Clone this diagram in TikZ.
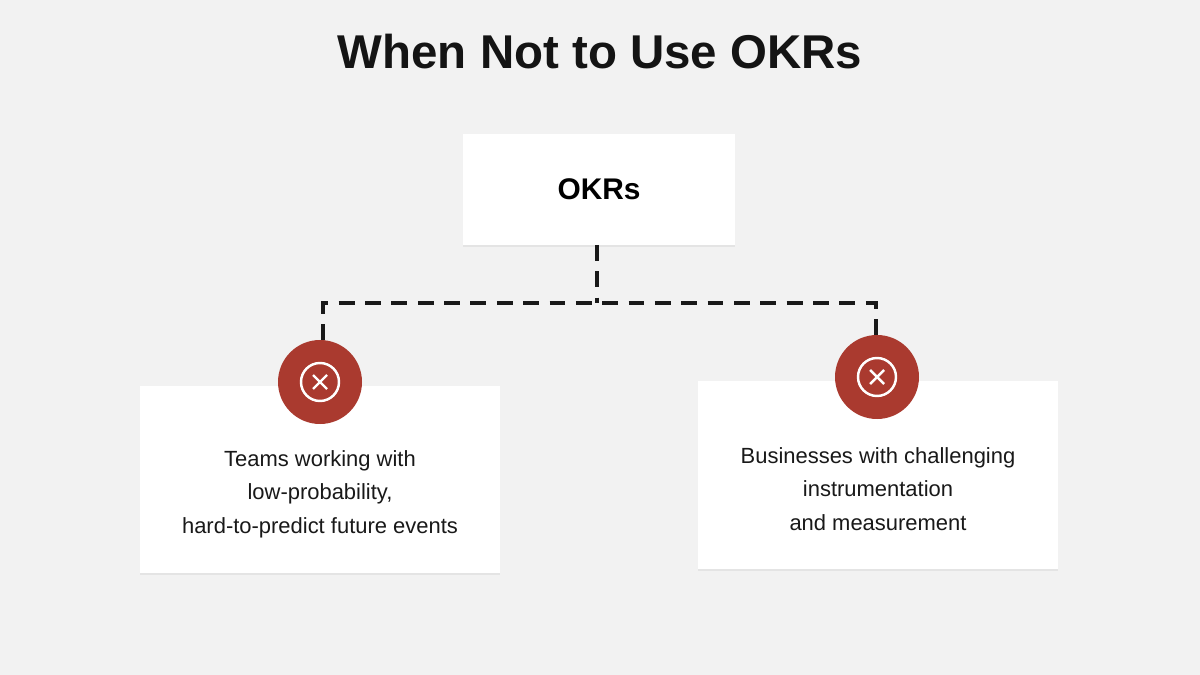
\documentclass[tikz,border=0pt]{standalone}
\usepackage{fontspec}
\setmainfont{Liberation Sans}
\usetikzlibrary{shadows}
\begin{document}
\begin{tikzpicture}[x=0.02cm,y=-0.02cm,
  card/.style={draw=none,fill=white,drop shadow={opacity=0.12,shadow xshift=0pt,shadow yshift=-1pt}},
  xmark/.style={circle,minimum size=84*0.02cm,inner sep=0pt},
  body/.style={align=center,font=\fontsize{12.5}{19}\selectfont,text=black!90}]
\fill[black!5] (0,0) rectangle (1200,675);
\useasboundingbox (0,0) rectangle (1200,675);
\node[font=\bfseries\fontsize{27}{32}\selectfont,text=black!92] (title) at (600,52) {When Not to Use OKRs};
\path[card] (463,134) rectangle (735,245);
\node[font=\bfseries\fontsize{17}{20}\selectfont] (okr) at (599,189) {OKRs};
\coordinate (okrb) at (597,245);
\coordinate (lj) at (323,303);
\coordinate (rj) at (876,303);
\coordinate (lt0) at (323,340);
\coordinate (rt0) at (876,335);
\path[card] (140,386) rectangle (500,573);
\path[card] (698,381) rectangle (1058,569);
\node[body] (lt) at (320,494) {Teams working with\\low-probability,\\hard-to-predict future events};
\node[body] (rt) at (878,489) {Businesses with challenging\\instrumentation\\and measurement};
\draw[black!90,line width=2.6pt,dash pattern=on 9pt off 6pt] (okrb) -- (597,303);
\draw[black!90,line width=2.6pt,dash pattern=on 9pt off 6pt] (lt0) -- (lj) -- (rj) -- (rt0);
\node[xmark,fill={rgb,255:red,170;green,58;blue,47}] (lc) at (320,382) {};
\node[xmark,fill={rgb,255:red,170;green,58;blue,47}] (rc) at (877,377) {};
\foreach \c in {lc,rc}{
  \draw[white,line width=1.4pt] (\c) circle (19*0.02cm);
  \draw[white,line width=1.4pt] ([shift={(-7,-7)}]\c.center) -- ([shift={(7,7)}]\c.center)
    ([shift={(-7,7)}]\c.center) -- ([shift={(7,-7)}]\c.center);
}
\end{tikzpicture}
\end{document}
